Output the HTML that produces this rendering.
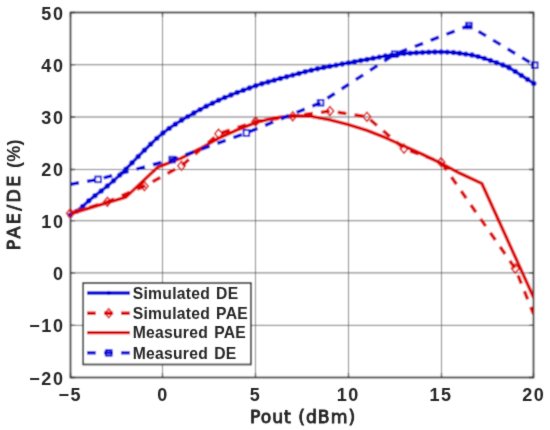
<!DOCTYPE html><html><head><meta charset="utf-8"><title>PAE/DE vs Pout</title>
<style>html,body{margin:0;padding:0;background:#fff}svg{display:block}text{fill:#262626}.tk{font-family:"Liberation Sans",sans-serif;font-weight:bold;font-size:18px;letter-spacing:1.6px}.lb{font-family:"DejaVu Sans",sans-serif;font-weight:normal;font-size:16.6px;letter-spacing:1.4px;stroke:#262626;stroke-width:0.9px}.lg{font-family:"Liberation Sans",sans-serif;font-weight:bold;font-size:15.7px;letter-spacing:0.25px;word-spacing:1.5px}</style></head><body>
<svg width="550" height="430" viewBox="0 0 550 430">
<defs>
<filter id="bl" x="0" y="0" width="550" height="430" filterUnits="userSpaceOnUse"><feConvolveMatrix order="3" kernelMatrix="0.0484 0.1232 0.0484 0.1232 0.3136 0.1232 0.0484 0.1232 0.0484" edgeMode="duplicate" preserveAlpha="true"/></filter>
<filter id="bt" x="0" y="0" width="550" height="430" filterUnits="userSpaceOnUse"><feConvolveMatrix order="3" kernelMatrix="0.0100 0.0800 0.0100 0.0800 0.6400 0.0800 0.0100 0.0800 0.0100" edgeMode="duplicate" preserveAlpha="false"/></filter>
<clipPath id="ax"><rect x="70.5" y="12.5" width="463" height="365"/></clipPath>
</defs>
<g filter="url(#bl)">
<rect width="550" height="430" fill="#fff"/>
<path d="M162.5 12.5V377.5M255.5 12.5V377.5M348.5 12.5V377.5M441.5 12.5V377.5M70.5 64.7H533.5M70.5 117.0H533.5M70.5 169.5H533.5M70.5 220.7H533.5M70.5 272.9H533.5M70.5 325.4H533.5" stroke="#666" stroke-width="1" fill="none"/>
<path d="M162.5 377.5v-4.6M162.5 12.5v4.6M255.5 377.5v-4.6M255.5 12.5v4.6M348.5 377.5v-4.6M348.5 12.5v4.6M441.5 377.5v-4.6M441.5 12.5v4.6M70.5 377.5v-4.6M70.5 12.5v4.6M533.5 377.5v-4.6M533.5 12.5v4.6M70.5 64.7h4.6M533.5 64.7h-4.6M70.5 117.0h4.6M533.5 117.0h-4.6M70.5 169.5h4.6M533.5 169.5h-4.6M70.5 220.7h4.6M533.5 220.7h-4.6M70.5 272.9h4.6M533.5 272.9h-4.6M70.5 325.4h4.6M533.5 325.4h-4.6M70.5 12.5h4.6M533.5 12.5h-4.6M70.5 377.5h4.6M533.5 377.5h-4.6" stroke="#262626" stroke-width="1.3" fill="none"/>
<rect x="70.5" y="12.5" width="463" height="365" fill="none" stroke="#000" stroke-width="1.6"/>
<polyline clip-path="url(#ax)" fill="none" stroke-linejoin="round" points="70.27,215.36 76.45,211.35 82.63,206.43 88.81,200.73 94.99,195.64 101.17,191.02 107.35,186.07 113.53,180.8 119.71,175.1 125.89,169.08 132.07,162.74 138.25,156.44 144.43,150.25 150.61,144.23 156.79,138.33 162.97,132.98 169.15,128.39 175.33,124.23 181.51,120.29 187.69,116.61 193.87,113.05 200.05,109.59 206.23,106.26 212.41,103.19 218.59,100.28 224.77,97.56 230.95,94.99 237.13,92.53 243.31,90.18 249.49,87.94 255.67,85.8 261.85,83.8 268.03,81.93 274.21,80.14 280.39,78.43 286.57,76.77 292.75,75.12 298.93,73.43 305.11,71.77 311.29,70.2 317.47,68.8 323.65,67.51 329.83,66.3 336.01,65.12 342.19,63.98 348.37,62.86 354.55,61.72 360.73,60.57 366.91,59.44 373.09,58.29 379.27,57.1 385.45,55.99 391.63,55.09 397.81,54.29 403.99,53.62 410.17,53.15 416.35,52.77 422.53,52.44 428.71,52.16 434.89,51.97 441.07,51.91 447.25,52.08 453.43,52.56 459.61,53.25 465.79,54.08 471.97,55.05 478.15,56.58 484.33,58.37 490.51,60.51 496.69,62.81 502.87,65.04 509.05,67.72 515.23,71.44 521.41,75.5 527.59,79.44 533.77,83.45" stroke="#0000d8" stroke-width="3.3"/>
<g fill="#0000d8"><circle cx="70.27" cy="215.36" r="2.7"/><circle cx="76.45" cy="211.35" r="2.7"/><circle cx="82.63" cy="206.43" r="2.7"/><circle cx="88.81" cy="200.73" r="2.7"/><circle cx="94.99" cy="195.64" r="2.7"/><circle cx="101.17" cy="191.02" r="2.7"/><circle cx="107.35" cy="186.07" r="2.7"/><circle cx="113.53" cy="180.8" r="2.7"/><circle cx="119.71" cy="175.1" r="2.7"/><circle cx="125.89" cy="169.08" r="2.7"/><circle cx="132.07" cy="162.74" r="2.7"/><circle cx="138.25" cy="156.44" r="2.7"/><circle cx="144.43" cy="150.25" r="2.7"/><circle cx="150.61" cy="144.23" r="2.7"/><circle cx="156.79" cy="138.33" r="2.7"/><circle cx="162.97" cy="132.98" r="2.7"/><circle cx="169.15" cy="128.39" r="2.7"/><circle cx="175.33" cy="124.23" r="2.7"/><circle cx="181.51" cy="120.29" r="2.7"/><circle cx="187.69" cy="116.61" r="2.7"/><circle cx="193.87" cy="113.05" r="2.7"/><circle cx="200.05" cy="109.59" r="2.7"/><circle cx="206.23" cy="106.26" r="2.7"/><circle cx="212.41" cy="103.19" r="2.7"/><circle cx="218.59" cy="100.28" r="2.7"/><circle cx="224.77" cy="97.56" r="2.7"/><circle cx="230.95" cy="94.99" r="2.7"/><circle cx="237.13" cy="92.53" r="2.7"/><circle cx="243.31" cy="90.18" r="2.7"/><circle cx="249.49" cy="87.94" r="2.7"/><circle cx="255.67" cy="85.8" r="2.7"/><circle cx="261.85" cy="83.8" r="2.7"/><circle cx="268.03" cy="81.93" r="2.7"/><circle cx="274.21" cy="80.14" r="2.7"/><circle cx="280.39" cy="78.43" r="2.7"/><circle cx="286.57" cy="76.77" r="2.7"/><circle cx="292.75" cy="75.12" r="2.7"/><circle cx="298.93" cy="73.43" r="2.7"/><circle cx="305.11" cy="71.77" r="2.7"/><circle cx="311.29" cy="70.2" r="2.7"/><circle cx="317.47" cy="68.8" r="2.7"/><circle cx="323.65" cy="67.51" r="2.7"/><circle cx="329.83" cy="66.3" r="2.7"/><circle cx="336.01" cy="65.12" r="2.7"/><circle cx="342.19" cy="63.98" r="2.7"/><circle cx="348.37" cy="62.86" r="2.7"/><circle cx="354.55" cy="61.72" r="2.7"/><circle cx="360.73" cy="60.57" r="2.7"/><circle cx="366.91" cy="59.44" r="2.7"/><circle cx="373.09" cy="58.29" r="2.7"/><circle cx="379.27" cy="57.1" r="2.7"/><circle cx="385.45" cy="55.99" r="2.7"/><circle cx="391.63" cy="55.09" r="2.7"/><circle cx="397.81" cy="54.29" r="2.7"/><circle cx="403.99" cy="53.62" r="2.7"/><circle cx="410.17" cy="53.15" r="2.7"/><circle cx="416.35" cy="52.77" r="2.7"/><circle cx="422.53" cy="52.44" r="2.7"/><circle cx="428.71" cy="52.16" r="2.7"/><circle cx="434.89" cy="51.97" r="2.7"/><circle cx="441.07" cy="51.91" r="2.7"/><circle cx="447.25" cy="52.08" r="2.7"/><circle cx="453.43" cy="52.56" r="2.7"/><circle cx="459.61" cy="53.25" r="2.7"/><circle cx="465.79" cy="54.08" r="2.7"/><circle cx="471.97" cy="55.05" r="2.7"/><circle cx="478.15" cy="56.58" r="2.7"/><circle cx="484.33" cy="58.37" r="2.7"/><circle cx="490.51" cy="60.51" r="2.7"/><circle cx="496.69" cy="62.81" r="2.7"/><circle cx="502.87" cy="65.04" r="2.7"/><circle cx="509.05" cy="67.72" r="2.7"/><circle cx="515.23" cy="71.44" r="2.7"/><circle cx="521.41" cy="75.5" r="2.7"/><circle cx="527.59" cy="79.44" r="2.7"/><circle cx="533.77" cy="83.45" r="2.7"/></g>
<polyline clip-path="url(#ax)" fill="none" stroke-linejoin="round" points="70.27,213.28 107.35,201.81 144.43,186.17 181.51,165.83 218.59,133.77 255.67,121.51 292.75,116.3 329.83,111.08 366.91,116.82 403.99,148.63 441.07,162.18 515.23,268.55 533.77,314.43" stroke="#dc0000" stroke-width="3.4" stroke-dasharray="8.8 8.2" stroke-dashoffset="-3.3"/>
<path d="M70.27 208.78L74.07 213.28L70.27 217.78L66.47 213.28Z" fill="none" stroke="#dc0000" stroke-width="1.5"/><path d="M107.35 197.31L111.15 201.81L107.35 206.31L103.55 201.81Z" fill="none" stroke="#dc0000" stroke-width="1.5"/><path d="M144.43 181.67L148.23 186.17L144.43 190.67L140.63 186.17Z" fill="none" stroke="#dc0000" stroke-width="1.5"/><path d="M181.51 161.33L185.31 165.83L181.51 170.33L177.71 165.83Z" fill="none" stroke="#dc0000" stroke-width="1.5"/><path d="M218.59 129.27L222.39 133.77L218.59 138.27L214.79 133.77Z" fill="none" stroke="#dc0000" stroke-width="1.5"/><path d="M255.67 117.01L259.47 121.51L255.67 126.01L251.87 121.51Z" fill="none" stroke="#dc0000" stroke-width="1.5"/><path d="M292.75 111.8L296.55 116.3L292.75 120.8L288.95 116.3Z" fill="none" stroke="#dc0000" stroke-width="1.5"/><path d="M329.83 106.58L333.63 111.08L329.83 115.58L326.03 111.08Z" fill="none" stroke="#dc0000" stroke-width="1.5"/><path d="M366.91 112.32L370.71 116.82L366.91 121.32L363.11 116.82Z" fill="none" stroke="#dc0000" stroke-width="1.5"/><path d="M403.99 144.13L407.79 148.63L403.99 153.13L400.19 148.63Z" fill="none" stroke="#dc0000" stroke-width="1.5"/><path d="M441.07 157.68L444.87 162.18L441.07 166.68L437.27 162.18Z" fill="none" stroke="#dc0000" stroke-width="1.5"/><path d="M515.23 264.05L519.03 268.55L515.23 273.05L511.43 268.55Z" fill="none" stroke="#dc0000" stroke-width="1.5"/>
<polyline clip-path="url(#ax)" fill="none" stroke-linejoin="round" points="70.27,213.8 125.89,197.12 157.41,167.4 181.51,158.01 200.05,148.63 218.59,138.2 237.13,129.85 255.67,122.56 274.21,117.86 292.75,115.78 311.29,116.3 329.83,119.95 348.37,124.64 366.91,130.38 385.45,137.68 403.99,146.02 422.53,154.36 441.07,163.22 459.61,173.13 481.86,183.56 533.77,297.75" stroke="#dc0000" stroke-width="3.4"/>
<polyline clip-path="url(#ax)" fill="none" stroke-linejoin="round" points="70.27,184.34 98.08,179.39 172.24,159.57 246.4,132.98 320.56,102.74 394.72,54.25 468.88,25.57" stroke="#0000d8" stroke-width="3.4" stroke-dasharray="8.8 8.2" stroke-dashoffset="0"/>
<polyline clip-path="url(#ax)" fill="none" stroke-linejoin="round" points="468.88,25.57 534.7,65.2" stroke="#0000d8" stroke-width="3.4" stroke-dasharray="8.8 8.2" stroke-dashoffset="5.8"/>
<rect x="95.23" y="176.54" width="5.7" height="5.7" fill="none" stroke="#0000d8" stroke-width="1.8"/><rect x="169.39" y="156.72" width="5.7" height="5.7" fill="none" stroke="#0000d8" stroke-width="1.8"/><rect x="243.55" y="130.13" width="5.7" height="5.7" fill="none" stroke="#0000d8" stroke-width="1.8"/><rect x="317.71" y="99.89" width="5.7" height="5.7" fill="none" stroke="#0000d8" stroke-width="1.8"/><rect x="391.87" y="51.4" width="5.7" height="5.7" fill="none" stroke="#0000d8" stroke-width="1.8"/><rect x="466.03" y="22.72" width="5.7" height="5.7" fill="none" stroke="#0000d8" stroke-width="1.8"/><rect x="531.85" y="62.35" width="5.7" height="5.7" fill="none" stroke="#0000d8" stroke-width="1.8"/>
<rect x="83.2" y="283" width="167.7" height="81.5" fill="#fff" stroke="#000" stroke-width="1.6"/>
<path d="M87 293.0H130" stroke="#0000d8" stroke-width="3.4"/><circle cx="108.7" cy="293.0" r="2.3" fill="#0000d8"/>
<path d="M87 313.2H130" stroke="#dc0000" stroke-width="3.4" stroke-dasharray="8.8 8.2"/>
<path d="M108.7 308.7L112.5 313.2L108.7 317.7L104.9 313.2Z" fill="none" stroke="#dc0000" stroke-width="1.5"/>
<path d="M87 332.6H130" stroke="#dc0000" stroke-width="3.4"/>
<path d="M87 352.9H130" stroke="#0000d8" stroke-width="3.4" stroke-dasharray="8.8 8.2"/>
<rect x="105.85" y="350.05" width="5.7" height="5.7" fill="none" stroke="#0000d8" stroke-width="1.8"/>
</g>
<g filter="url(#bt)">
<text class="lg" x="132.8" y="298.7">Simulated DE</text>
<text class="lg" x="132.8" y="318.9">Simulated PAE</text>
<text class="lg" x="132.8" y="338.3">Measured PAE</text>
<text class="lg" x="132.8" y="358.6">Measured DE</text>
<text class="tk" x="64.6" y="19.54" text-anchor="end">50</text>
<text class="tk" x="64.6" y="71.68" text-anchor="end">40</text>
<text class="tk" x="64.6" y="123.82" text-anchor="end">30</text>
<text class="tk" x="64.6" y="175.96" text-anchor="end">20</text>
<text class="tk" x="64.6" y="228.1" text-anchor="end">10</text>
<text class="tk" x="64.6" y="280.24" text-anchor="end">0</text>
<text class="tk" x="64.6" y="332.38" text-anchor="end">−10</text>
<text class="tk" x="64.6" y="384.52" text-anchor="end">−20</text>
<text class="tk" x="70.27" y="401.3" text-anchor="middle">−5</text>
<text class="tk" x="162.97" y="401.3" text-anchor="middle">0</text>
<text class="tk" x="255.67" y="401.3" text-anchor="middle">5</text>
<text class="tk" x="348.37" y="401.3" text-anchor="middle">10</text>
<text class="tk" x="441.07" y="401.3" text-anchor="middle">15</text>
<text class="tk" x="533.77" y="401.3" text-anchor="middle">20</text>
<text class="lb" x="303" y="423" text-anchor="middle" style="font-size:17.2px;letter-spacing:1px">Pout (dBm)</text>
<text class="lb" transform="translate(20.3 250.2) rotate(-90)" style="font-size:17.4px;letter-spacing:2.4px">PAE/DE<tspan style="font-family:'Liberation Sans',sans-serif;font-weight:bold;stroke:none;letter-spacing:0.3px;font-size:18px"> (%)</tspan></text>
</g>
</svg></body></html>
